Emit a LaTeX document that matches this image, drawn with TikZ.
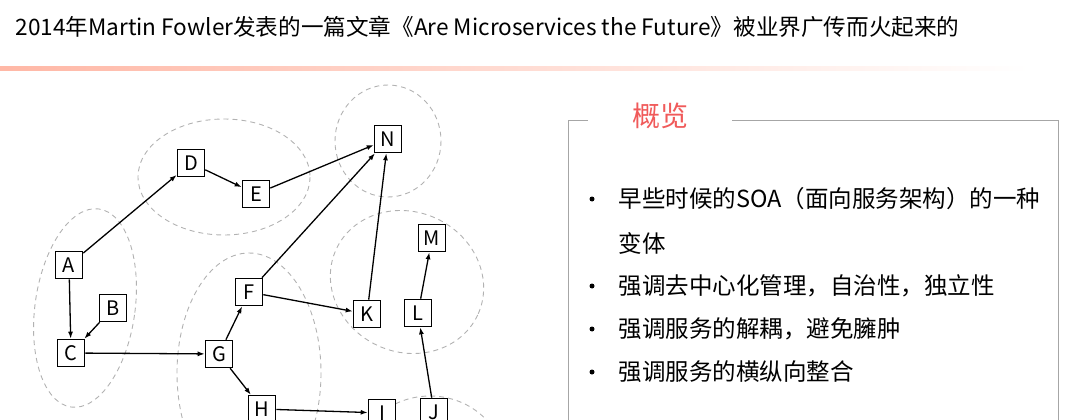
\documentclass[tikz,border=0pt]{standalone}
\usepackage{fontspec}
\setmainfont{Noto Sans CJK SC}
\usetikzlibrary{arrows.meta}
\definecolor{redt}{HTML}{F05A5A}
\begin{document}
\begin{tikzpicture}[x=1pt,y=-1pt,
 box/.style={draw,line width=1.6pt,minimum size=27pt,inner sep=0pt,font=\fontsize{20}{20}\selectfont,fill=white},
 grp/.style={draw=gray!60,dashed,line width=0.9pt,dash pattern=on 5pt off 4pt},
 arr/.style={-{Latex[length=7pt,width=5pt]},line width=1.3pt},
 bul/.style={anchor=west,font=\fontsize{23.5}{23.5}\selectfont}]
\useasboundingbox (0,0) rectangle (1077,420);
\begin{scope}
\clip (0,0) rectangle (1077,420);
\node[anchor=west,font=\fontsize{22.6}{22.6}\selectfont] (title) at (12,27) {2014年Martin Fowler发表的一篇文章《Are Microservices the Future》被业界广传而火起来的};
\shade[left color=orange!40!red!35,right color=white] (0,67) rectangle (1030,71);
% groups
\draw[grp,rotate around={-8:(85,308)}] (85,308) ellipse (50 and 100);
\draw[grp] (224,177) ellipse (86 and 58);
\draw[grp] (388,141) ellipse (53 and 56);
\draw[grp] (249,373) ellipse (72 and 120);
\draw[grp,rotate around={-25:(407,282)}] (407,282) ellipse (78 and 70);
\draw[grp] (430,466) ellipse (75 and 70);
% nodes
\node[box] (A) at (69,265) {A};
\node[box] (B) at (113,308) {B};
\node[box] (C) at (71,353) {C};
\node[box] (D) at (191,163) {D};
\node[box] (E) at (256,194) {E};
\node[box] (N) at (388,139) {N};
\node[box] (F) at (249,292) {F};
\node[box] (G) at (219,354) {G};
\node[box] (K) at (367,314) {K};
\node[box] (L) at (418,313) {L};
\node[box] (M) at (432,238) {M};
\node[box] (H) at (262,409) {H};
\node[box] (I) at (382,413) {I};
\node[box] (J) at (434,412) {J};
\draw[arr] (A) -- (D);
\draw[arr] (A) -- (C);
\draw[arr] (B) -- (C);
\draw[arr] (D) -- (E);
\draw[arr] (E) -- (N);
\draw[arr] (F) -- (N);
\draw[arr] (K) -- (N);
\draw[arr] (C) -- (G);
\draw[arr] (G) -- (F);
\draw[arr] (F) -- (K);
\draw[arr] (G) -- (H);
\draw[arr] (H) -- (I);
\draw[arr] (J) -- (L);
\draw[arr] (L) -- (M);
% panel
\draw[gray!70,line width=1pt] (588,120) -- (568,120) -- (568,430);
\draw[gray!70,line width=1pt] (732,120) -- (1058,120) -- (1058,430);
\node[font=\fontsize{28}{28}\selectfont,text=redt] (ptitle) at (660,116) {概览};
\foreach \y/\t in {199/早些时候的SOA（面向服务架构）的一种, 243/变体, 286/强调去中心化管理，自治性，独立性, 329/强调服务的解耦，避免臃肿, 372/强调服务的横纵向整合}{
  \node[bul] at (615,\y) {\t};
}
\foreach \y in {199,286,329,372}{\fill (592,\y) circle (2.5);}
\end{scope}
\end{tikzpicture}
\end{document}
